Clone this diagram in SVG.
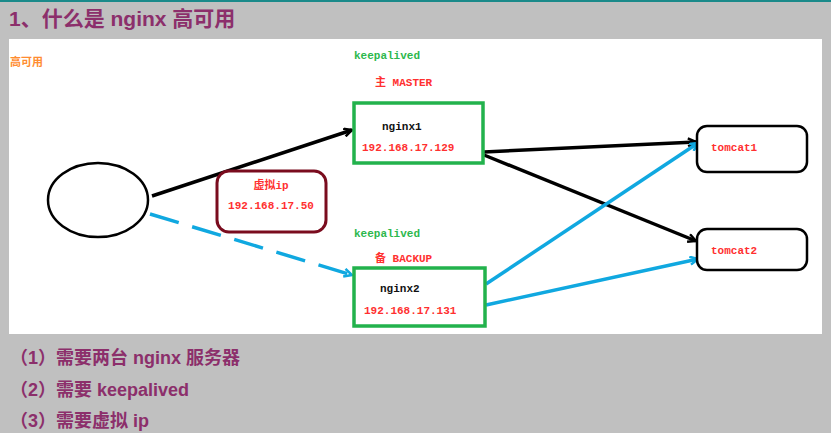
<svg xmlns="http://www.w3.org/2000/svg" width="831" height="433" viewBox="0 0 831 433">
<style>
.m{font-family:"Liberation Mono","Noto Sans CJK SC",monospace;font-size:11px;font-weight:bold}
.r{fill:#ff3030}.g{fill:#2db84d}.k{fill:#111}
.box{fill:#fff;stroke:#22b24c;stroke-width:3.5}
.t{fill:#fff;stroke:#000;stroke-width:2.5}
.h{font-family:"Liberation Sans","Noto Sans CJK SC",sans-serif;font-weight:bold;fill:#8c2f6b}
</style>
<defs>
<marker id="ak" markerWidth="10" markerHeight="10" refX="9" refY="5" orient="auto" markerUnits="userSpaceOnUse"><path d="M1,1 L9,5 L1,9" fill="none" stroke="#000" stroke-width="2.5"/></marker>
<marker id="ab" markerWidth="10" markerHeight="10" refX="9" refY="5" orient="auto" markerUnits="userSpaceOnUse"><path d="M1,1 L9,5 L1,9" fill="none" stroke="#10a8e0" stroke-width="2.5"/></marker>
</defs>
<rect width="831" height="433" fill="#c0c0c0"/>
<rect width="831" height="2" fill="#1a8a8a"/>
<text class="h" x="9" y="26" font-size="21">1、什么是 nginx 高可用</text>
<rect x="9" y="39" width="813" height="295" fill="#fff"/>
<text x="10" y="66" font-family="'Noto Sans CJK SC',sans-serif" font-size="11" font-weight="bold" fill="#ff8c30">高可用</text>
<g id="connectors" fill="none">
<path d="M152,196 L352,130" stroke="#000" stroke-width="3.5" marker-end="url(#ak)"/>
<path d="M150,214 L352,275" stroke="#10a8e0" stroke-width="3.5" stroke-dasharray="30,14" marker-end="url(#ab)"/>
<path d="M484,152 L696,142" stroke="#000" stroke-width="3.5" marker-end="url(#ak)"/>
<path d="M484,155 L696,241" stroke="#000" stroke-width="3.5" marker-end="url(#ak)"/>
<path d="M486,284 L698,143" stroke="#10a8e0" stroke-width="3.5" marker-end="url(#ab)"/>
<path d="M486,305 L698,259" stroke="#10a8e0" stroke-width="3.5" marker-end="url(#ab)"/>
</g>
<g id="client"><ellipse cx="98" cy="200" rx="50" ry="37" fill="#fff" stroke="#000" stroke-width="2.5"/></g>
<g id="vip"><rect x="217" y="171" width="109" height="61" rx="12" fill="#fff" stroke="#7a0c1e" stroke-width="3"/>
<text class="m r" x="271" y="189" text-anchor="middle">虚拟ip</text><text class="m r" x="271" y="209" text-anchor="middle">192.168.17.50</text></g>
<g id="nginx1"><text class="m g" x="354" y="59">keepalived</text><text class="m r" x="375" y="86">主 MASTER</text>
<rect class="box" x="354" y="103" width="129" height="60"/>
<text class="m k" x="382" y="130">nginx1</text><text class="m r" x="362" y="151">192.168.17.129</text></g>
<g id="nginx2"><text class="m g" x="354" y="237">keepalived</text><text class="m r" x="375" y="262">备 BACKUP</text>
<rect class="box" x="354" y="268" width="131" height="58"/>
<text class="m k" x="380" y="292">nginx2</text><text class="m r" x="364" y="314">192.168.17.131</text></g>
<g id="tomcat1"><rect class="t" x="697" y="126" width="110" height="46" rx="10"/><text class="m r" x="711" y="151">tomcat1</text></g>
<g id="tomcat2"><rect class="t" x="697" y="229" width="110" height="41" rx="10"/><text class="m r" x="711" y="254">tomcat2</text></g>
<text class="h" x="10" y="364" font-size="18">（1）需要两台 nginx 服务器</text>
<text class="h" x="10" y="396" font-size="18">（2）需要 keepalived</text>
<text class="h" x="10" y="427" font-size="18">（3）需要虚拟 ip</text>
</svg>
